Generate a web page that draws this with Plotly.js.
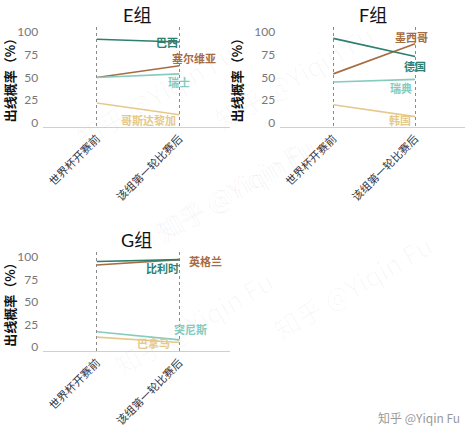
<!DOCTYPE html>
<html><head><meta charset="utf-8">
<script src="https://cdn.plot.ly/plotly-3.0.1.min.js"></script>
<style>html,body{margin:0;padding:0;background:#fff}#c{width:474px;height:448px}</style>
</head><body><div id="c"></div>
<script>
var stages = ['世界杯开赛前', '该组第一轮比赛后'];
var yTicks = [0, 25, 50, 75, 100];
var groupTitles = ['E组', 'F组', 'G组'];

var teamsE = ['巴西', '塞尔维亚', '瑞士', '哥斯达黎加'];
var valuesE = [[92, 89], [50, 63], [50, 54], [22, 9]];
var teamsF = ['墨西哥', '德国', '瑞典', '韩国'];
var valuesF = [[54, 87], [93, 73], [45, 48], [20, 7]];
var teamsG = ['英格兰', '比利时', '突尼斯', '巴拿马'];
var valuesG = [[91, 97], [95, 97], [17, 8], [11, 5]];

// label positions (x in category units, y in %)
var labelPosE = [[0.85, 89], [1.18, 71], [1.0, 45], [0.63, 3]];
var labelPosF = [[0.96, 94], [1.0, 63], [0.83, 38], [0.82, 3]];
var labelPosG = [[1.31, 95], [0.80, 87.5], [1.13, 20.5], [0.68, 4]];

var colorsE = ['#2e7f6d', '#a66c42', '#86cbbd', '#e5c98b'];
var colorsF = ['#a66c42', '#2e7f6d', '#86cbbd', '#e5c98b'];
var colorsG = ['#a66c42', '#2e7f6d', '#86cbbd', '#e5c98b'];

var groups = [
  {teams: teamsE, vals: valuesE, pos: labelPosE, cols: colorsE},
  {teams: teamsF, vals: valuesF, pos: labelPosF, cols: colorsF},
  {teams: teamsG, vals: valuesG, pos: labelPosG, cols: colorsG}
];

var data = [];
var annotations = [];
var cjk = '"Noto Sans CJK SC", "Noto Sans", sans-serif';
// faint watermarks first (drawn beneath)
var wm = [[0.14, 0.93], [0.62, 0.97], [0.68, 0.58], [0.22, 0.14], [0.93, 0.22], [0.5, 0.72]];
wm.forEach(function (p) {
  annotations.push({xref: 'paper', yref: 'paper', x: p[0], y: p[1], textangle: -30,
    text: '知乎 @Yiqin Fu', showarrow: false,
    font: {family: cjk, size: 26, color: 'rgba(0,0,0,0.028)'}});
});
groups.forEach(function (g, gi) {
  var sfx = gi === 0 ? '' : String(gi + 1);
  g.teams.forEach(function (t, i) {
    data.push({
      type: 'scatter', mode: 'lines', x: [0, 1], y: g.vals[i],
      xaxis: 'x' + sfx, yaxis: 'y' + sfx,
      line: {color: g.cols[i], width: 1.6}, hoverinfo: 'skip', showlegend: false
    });
    annotations.push({
      xref: 'x' + sfx, yref: 'y' + sfx, x: g.pos[i][0], y: g.pos[i][1],
      text: '<b>' + t + '</b>', showarrow: false,
      font: {family: cjk, size: 11, color: g.cols[i]}
    });
  });
});

var xdom = [[0.091, 0.485], [0.591, 0.981], [0.091, 0.485]];
var ydom = [[0.7165, 0.9397], [0.7165, 0.9397], [0.2165, 0.4375]];
var layout = {
  width: 474, height: 448,
  margin: {l: 0, r: 0, t: 0, b: 0},
  paper_bgcolor: '#fff', plot_bgcolor: '#fff',
  font: {family: cjk},
  annotations: annotations,
  shapes: []
};
for (var k = 0; k < 3; k++) {
  var sfx = k === 0 ? '' : String(k + 1);
  layout['xaxis' + sfx] = {
    domain: xdom[k], anchor: 'y' + sfx, range: [-0.65, 1.61],
    tickvals: [0, 1], ticktext: stages, tickangle: -45,
    showgrid: true, gridcolor: '#8a8a8a', griddash: 'dot', gridwidth: 1,
    showline: true, linecolor: '#d0d0d0', linewidth: 1, zeroline: false,
    ticks: '', fixedrange: true,
    tickfont: {family: cjk, size: 11, color: '#333'}
  };
  layout['yaxis' + sfx] = {
    domain: ydom[k], anchor: 'x' + sfx, range: [-4.4, 105.5],
    tickvals: yTicks, showgrid: false, zeroline: false, showline: false,
    ticks: '', ticklabelstandoff: 4,
    tickfont: {family: 'Lato, "DejaVu Sans", sans-serif', size: 12, color: '#777'},
    title: {text: '<b>出线概率（%）</b>', font: {family: cjk, size: 13, color: '#111'}, standoff: 8}
  };
  annotations.push({
    xref: 'x' + sfx + ' domain', yref: 'paper', x: 0.5,
    y: ydom[k][1] + 0.027, yanchor: 'middle',
    text: groupTitles[k], showarrow: false,
    font: {family: 'Lato, ' + cjk, size: 18, color: '#111'}
  });
}
annotations.push({xref: 'paper', yref: 'paper', x: 0.975, y: 0.045, xanchor: 'right',
  text: '知乎 @Yiqin Fu', showarrow: false, font: {family: cjk, size: 12, color: '#9a9a9a'}});

Plotly.newPlot('c', data, layout, {displayModeBar: false, staticPlot: true});
</script>
</body></html>
